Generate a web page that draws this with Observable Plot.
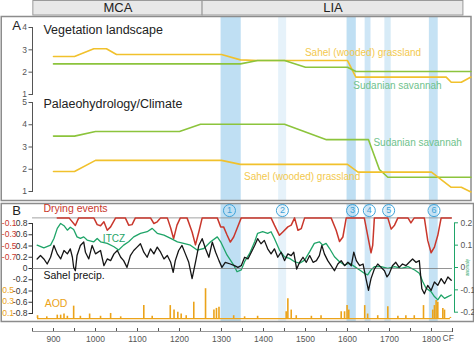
<!DOCTYPE html>
<html>
<head>
<meta charset="utf-8">
<script src="https://cdn.jsdelivr.net/npm/d3@7"></script>
<script src="https://cdn.jsdelivr.net/npm/@observablehq/plot@0.6"></script>
<style>
  html, body { margin: 0; padding: 0; background: #fff; }
  #chart { position: relative; width: 474px; height: 344px; overflow: hidden; background: #fff; }
</style>
</head>
<body>
<div id="chart"></div>
<script>
// ---------------- DATA ----------------
const periodNames = ["MCA", "LIA"];
const periodStart = [852, 1255];
const periodEnd = [1255, 1876];

const bandStart = [1299, 1436, 1599, 1642, 1689, 1795];
const bandEnd   = [1347, 1455, 1621, 1656, 1704, 1816];

const eventLabels = ["1", "2", "3", "4", "5", "6"];
const eventYears  = [1319, 1445, 1612, 1652, 1698, 1806];

// Panel A – vegetation landscape
const vegSahelYears = [900, 950, 996, 1026, 1050, 1300, 1345, 1386, 1600, 1620, 1835, 1847, 1871, 1894];
const vegSahel      = [2.70, 2.70, 3.05, 3.05, 2.79, 2.79, 2.55, 2.52, 2.52, 1.78, 1.78, 1.55, 1.55, 1.78];
const vegSudanYears = [900, 1345, 1386, 1450, 1500, 1600, 1620, 1894];
const vegSudan      = [2.37, 2.37, 2.52, 2.52, 2.22, 2.22, 2.03, 2.03];

// Panel A – palaeohydrology / climate
const palSudanYears = [900, 950, 1000, 1200, 1250, 1450, 1550, 1650, 1676, 1696, 1894];
const palSudan      = [3.49, 3.49, 3.70, 3.70, 4.02, 4.02, 3.33, 3.33, 1.99, 1.64, 1.64];
const palSahelYears = [900, 950, 1000, 1300, 1345, 1600, 1625, 1800, 1847, 1871, 1894];
const palSahel      = [1.90, 1.90, 2.40, 2.40, 2.22, 2.22, 1.87, 1.87, 1.19, 1.19, 0.98];

// Panel B – ITCZ (right axis)
const itczYears = [861, 877, 893, 901, 909, 917, 925, 933, 940, 948, 956, 964, 972, 980, 996, 1004, 1012, 1028, 1044, 1055, 1067, 1079, 1091, 1107, 1123, 1135, 1147, 1163, 1179, 1195, 1210, 1226, 1242, 1258, 1274, 1290, 1298, 1313, 1329, 1337, 1347, 1355, 1367, 1379, 1386, 1398, 1410, 1418, 1426, 1438, 1450, 1462, 1474, 1486, 1498, 1510, 1521, 1533, 1541, 1549, 1557, 1569, 1581, 1593, 1605, 1617, 1629, 1640, 1648, 1656, 1664, 1680, 1696, 1712, 1728, 1744, 1760, 1771, 1779, 1787, 1799, 1807, 1815, 1823, 1831, 1839, 1847];
const itcz      = [0.10, 0.088, 0.10, 0.13, 0.175, 0.197, 0.187, 0.167, 0.18, 0.17, 0.137, 0.13, 0.137, 0.123, 0.115, 0.13, 0.115, 0.108, 0.093, 0.078, 0.10, 0.115, 0.137, 0.153, 0.16, 0.175, 0.153, 0.145, 0.13, 0.115, 0.108, 0.10, 0.078, 0.085, 0.115, 0.137, 0.115, 0.056, 0.011, -0.019, -0.011, 0.026, 0.063, 0.115, 0.153, 0.16, 0.153, 0.16, 0.13, 0.078, 0.048, 0.041, 0.026, 0.019, 0.033, 0.071, 0.108, 0.115, 0.10, 0.108, 0.086, 0.048, 0.026, 0.011, 0.019, 0.004, -0.011, -0.026, -0.033, -0.011, 0.004, 0.004, -0.004, 0.004, -0.004, 0.004, -0.011, -0.026, -0.063, -0.093, -0.108, -0.13, -0.145, -0.123, -0.138, -0.13, -0.123];

// Panel B – Sahel precipitation (left black axis)
const sahelYears = [861, 869, 877, 885, 893, 901, 909, 917, 925, 933, 940, 945, 948, 952, 956, 964, 972, 976, 984, 992, 1000, 1012, 1020, 1028, 1036, 1044, 1052, 1060, 1067, 1075, 1083, 1091, 1099, 1107, 1115, 1123, 1131, 1139, 1147, 1155, 1163, 1171, 1179, 1185, 1190, 1198, 1206, 1214, 1222, 1230, 1238, 1246, 1254, 1262, 1270, 1278, 1286, 1294, 1301, 1309, 1321, 1331, 1339, 1347, 1355, 1363, 1371, 1379, 1386, 1394, 1402, 1410, 1418, 1426, 1434, 1442, 1450, 1458, 1466, 1472, 1479, 1486, 1494, 1502, 1510, 1518, 1526, 1533, 1539, 1545, 1553, 1561, 1569, 1577, 1585, 1593, 1601, 1609, 1615, 1621, 1629, 1637, 1644, 1650, 1656, 1664, 1672, 1680, 1688, 1694, 1699, 1707, 1715, 1723, 1731, 1739, 1747, 1755, 1763, 1771, 1777, 1783, 1791, 1799, 1807, 1815, 1823, 1831, 1839, 1847];
const sahel      = [0.17, 0.23, 0.17, 0.08, 0.20, 0.41, 0.26, 0.17, 0.32, 0.26, 0.35, 0.20, 0.02, -0.04, 0.23, 0.41, 0.47, 0.29, 0.17, 0.41, 0.26, 0.32, 0.05, 0.17, 0.14, 0.26, 0.32, 0.20, 0.14, 0.02, 0.23, 0.32, 0.38, 0.44, 0.29, 0.20, 0.35, 0.26, 0.38, 0.29, 0.17, 0.23, 0.11, -0.07, 0.14, 0.32, 0.41, 0.26, 0.11, -0.18, 0.11, 0.41, 0.53, 0.35, 0.20, 0.47, 0.29, 0.14, 0.02, 0.11, 0.08, 0.05, 0.02, 0.05, 0.20, 0.17, 0.29, 0.41, 0.53, 0.44, 0.50, 0.35, 0.26, 0.35, 0.20, 0.29, 0.14, 0.26, 0.23, 0.29, -0.01, 0.11, 0.20, 0.11, 0.23, 0.11, 0.14, 0.23, 0.41, 0.26, 0.14, 0.05, -0.04, 0.08, 0.14, 0.05, 0.11, 0.05, 0.29, 0.14, 0.05, 0.08, -0.18, -0.39, -0.18, -0.01, 0.08, 0.02, -0.04, -0.15, -0.10, 0.05, 0.11, 0.02, 0.08, 0.05, 0.11, 0.17, 0.11, 0.14, -0.36, -0.45, -0.30, -0.39, -0.24, -0.30, -0.18, -0.27, -0.15, -0.21];

// Panel B – drying events (red axis)
const dryYears = [909, 937, 952, 960, 996, 1004, 1012, 1020, 1028, 1036, 1048, 1071, 1079, 1087, 1095, 1131, 1139, 1147, 1155, 1171, 1179, 1186, 1194, 1202, 1218, 1230, 1238, 1246, 1254, 1290, 1298, 1305, 1313, 1321, 1329, 1337, 1347, 1418, 1426, 1438, 1446, 1458, 1466, 1474, 1482, 1490, 1498, 1561, 1573, 1581, 1589, 1597, 1640, 1648, 1656, 1660, 1664, 1696, 1704, 1712, 1720, 1744, 1751, 1759, 1783, 1791, 1799, 1807, 1815, 1823, 1847];
const dry      = [0, 0, -0.135, 0, 0, -0.12, -0.14, -0.07, -0.22, -0.16, 0, 0, -0.13, -0.12, 0, 0, -0.10, -0.07, 0, 0, -0.18, -0.37, -0.13, 0, 0, -0.25, -0.48, -0.25, 0, 0, -0.16, -0.16, -0.30, -0.43, -0.34, -0.19, 0, 0, -0.13, -0.31, -0.25, -0.16, -0.13, 0, -0.22, -0.19, 0, 0, -0.22, -0.42, -0.34, 0, 0, -0.31, -0.62, -0.49, 0, 0, -0.20, -0.13, 0, 0, -0.09, 0, 0, -0.40, -0.62, -0.52, -0.31, 0, 0];

// Panel B – AOD (volcanic aerosol optical depth)
const aodYears = [862, 884, 909, 917, 925, 933, 948, 964, 986, 1012, 1036, 1060, 1115, 1135, 1178, 1187, 1196, 1204, 1216, 1234, 1262, 1282, 1288, 1294, 1329, 1355, 1386, 1454, 1458, 1466, 1478, 1514, 1537, 1585, 1593, 1599, 1603, 1641, 1648, 1672, 1696, 1720, 1739, 1759, 1781, 1803, 1807, 1811, 1815, 1827, 1831, 1845];
const aod      = [0.05, 0.03, 0.06, 0.06, 0.08, 0.04, 0.22, 0.04, 0.08, 0.04, 0.09, 0.03, 0.23, 0.04, 0.23, 0.15, 0.11, 0.08, 0.05, 0.29, 0.53, 0.15, 0.18, 0.20, 0.05, 0.03, 0.04, 0.12, 0.35, 0.15, 0.05, 0.04, 0.05, 0.12, 0.12, 0.23, 0.15, 0.23, 0.08, 0.05, 0.21, 0.04, 0.05, 0.05, 0.23, 0.15, 0.23, 0.32, 0.29, 0.18, 0.15, 0.02];

// Axis ticks
const axisYears = [850, 1850];
const xTicks = d3.range(850, 1851, 50);
const vegTicks = [1, 2, 3, 4];
const palTicks = [1, 2, 3, 4, 5];
const sahelTicks = [-0.8, -0.6, -0.4, -0.2, 0, 0.2, 0.4, 0.6, 0.8];
const dryTicks = [-0.7, -0.5, -0.3, -0.1];
const aodTicks = [0.1, 0.3, 0.5];
const itczTicks = [-0.2, -0.1, 0, 0.1, 0.2];

// ---------------- TABLES ----------------
const zip = (xs, ys) => xs.map((x, i) => ({year: x, v: ys[i]}));
const periods = periodNames.map((n, i) => ({name: n, start: periodStart[i], end: periodEnd[i]}));
const bandOpacity = [0.72, 0.28, 0.72, 0.55, 0.45, 0.65];
const bands = bandStart.map((s, i) => ({start: s, end: bandEnd[i], op: bandOpacity[i]}));
const events = eventLabels.map((l, i) => ({label: l, year: eventYears[i]}));

// ---------------- STYLE ----------------
const W = 474, H = 344;
const xDomain = [773.8, 1902.4];
const FONT = "'Liberation Sans', Arial, Helvetica, sans-serif";
const YEL = "#f1c12c", GRN = "#8cc43c", YEL_T = "#f3c94e", GRN_T = "#6fc28c";
const RED = "#c9372c", ITCZ = "#1fa468", AODC = "#eba31a", BLUE = "#3ea2d8", BAND = "#a6d2ee";
const fmt = d => Math.abs(d) < 1e-9 ? "0" : d.toFixed(1);
const fmtInt = d => String(d);

const root = document.getElementById("chart");
function layer(opts) {
  const {x: xo, style: so, ...rest} = opts;
  const svg = Plot.plot({
    width: W, height: H,
    marginTop: 0, marginRight: 0, marginBottom: 0, marginLeft: 0,
    ...rest,
    x: {domain: xDomain, range: [0, W], axis: null, label: null, ...(xo || {})},
    style: {background: "transparent", overflow: "visible", fontFamily: FONT, fontSize: "8.5px", color: "#444", ...(so || {})}
  });
  svg.style.position = "absolute";
  svg.style.left = "0px";
  svg.style.top = "0px";
  root.appendChild(svg);
}

// Period bar (MCA / LIA)
layer({
  marginTop: 0.5, marginBottom: H - 15,
  marks: [
    Plot.rect(periods, {x1: "start", x2: "end", fill: "#e8e8e8", stroke: "#9a9a9a", strokeWidth: 1}),
    Plot.text(periods, {x: d => (d.start + d.end) / 2, text: "name", fontSize: 13, fill: "#222"})
  ]
});

// Panel A background: bands + frame
layer({
  marginTop: 16, marginBottom: H - 200, marginLeft: 0.75, marginRight: 3.5,
  marks: [
    Plot.rect(bands, {x1: "start", x2: "end", fill: BAND, fillOpacity: "op"}),
    Plot.frame({stroke: "#8c8c8c", strokeWidth: 1.5})
  ]
});

// Panel B background: bands + frame
layer({
  marginTop: 203, marginBottom: H - 321, marginLeft: 0.75, marginRight: 1,
  marks: [
    Plot.rect(bands, {x1: "start", x2: "end", fill: BAND, fillOpacity: "op"}),
    Plot.frame({stroke: "#8c8c8c", strokeWidth: 1.5})
  ]
});

// Vegetation landscape
layer({
  marginLeft: 32, marginTop: 27, marginBottom: H - 94,
  y: {domain: [1, 4], range: [94, 27], ticks: vegTicks, tickSize: 3.5, tickPadding: 2, tickFormat: fmtInt, line: true, label: null},
  style: {color: "#555"},
  marks: [
    Plot.line(zip(vegSahelYears, vegSahel), {x: "year", y: "v", stroke: YEL, strokeWidth: 1.6}),
    Plot.line(zip(vegSudanYears, vegSudan), {x: "year", y: "v", stroke: GRN, strokeWidth: 1.6}),
    Plot.text(["A"], {x: 812, y: 4.07, fontSize: 13, fill: "#222"}),
    Plot.text(["Vegetation landscape"], {x: 876, y: 3.87, textAnchor: "start", fontSize: 12.5, fill: "#222"}),
    Plot.text(["Sahel (wooded) grassland"], {x: 1637, y: 2.88, fontSize: 10, fill: YEL_T}),
    Plot.text(["Sudanian savannah"], {x: 1719, y: 1.37, fontSize: 10, fill: GRN_T})
  ]
});

// Palaeohydrology / Climate
layer({
  marginLeft: 32, marginTop: 102, marginBottom: H - 191,
  y: {domain: [1, 5], range: [191, 102], ticks: palTicks, tickSize: 3.5, tickPadding: 2, tickFormat: fmtInt, line: true, label: null},
  style: {color: "#555"},
  marks: [
    Plot.line(zip(palSudanYears, palSudan), {x: "year", y: "v", stroke: GRN, strokeWidth: 1.6}),
    Plot.line(zip(palSahelYears, palSahel), {x: "year", y: "v", stroke: YEL, strokeWidth: 1.6}),
    Plot.text(["Palaeohydrology/Climate"], {x: 876, y: 4.92, textAnchor: "start", fontSize: 12.5, fill: "#222"}),
    Plot.text(["Sudanian savannah"], {x: 1767, y: 3.21, fontSize: 10, fill: GRN_T}),
    Plot.text(["Sahel (wooded) grassland"], {x: 1492, y: 1.68, fontSize: 10, fill: YEL_T})
  ]
});

// Drying events (red axis)
layer({
  marginLeft: 32, marginTop: 223, marginBottom: H - 257,
  y: {domain: [-0.7, -0.1], range: [256.75, 223], ticks: dryTicks, tickSize: 0, tickPadding: 16, tickFormat: fmt, label: null},
  style: {color: RED},
  marks: [
    Plot.ruleY([0], {x1: axisYears[0], x2: axisYears[1], stroke: "#8a8a8a", strokeWidth: 0.8}),
    Plot.line(zip(dryYears, dry), {x: "year", y: "v", stroke: RED, strokeWidth: 1.5}),
    Plot.dot(events, {x: "year", y: 0.13, r: 6, stroke: BLUE, strokeWidth: 1, fill: "none"}),
    Plot.text(events, {x: "year", y: 0.13, text: "label", fill: BLUE, fontSize: 9}),
    Plot.text(["Drying events"], {x: 876, y: 0.167, textAnchor: "start", fill: RED, fontSize: 10.5})
  ]
});

// AOD (yellow axis)
layer({
  marginLeft: 32, marginTop: 290, marginBottom: H - 318,
  y: {domain: [0.1, 0.5], range: [312.4, 289.9], ticks: aodTicks, tickSize: 0, tickPadding: 18.5, tickFormat: fmt, label: null},
  style: {color: AODC},
  marks: [
    Plot.ruleY([0], {x1: d3.min(aodYears), x2: d3.max(aodYears), stroke: AODC, strokeWidth: 1.2}),
    Plot.ruleX(zip(aodYears, aod), {x: "year", y1: 0, y2: "v", stroke: AODC, strokeWidth: 1.6}),
    Plot.text(["AOD"], {x: 879, y: 0.261, textAnchor: "start", fill: AODC, fontSize: 10.5})
  ]
});

// ITCZ (right green axis) – line + ticks
layer({
  marginRight: 20, marginTop: 222.3, marginBottom: H - 311.7,
  y: {axis: "right", domain: [-0.2, 0.2], range: [311.7, 222.3], ticks: itczTicks, tickSize: 3, tickFormat: () => "", line: true, label: null},
  style: {color: ITCZ},
  marks: [
    Plot.line(zip(itczYears, itcz), {x: "year", y: "v", stroke: ITCZ, strokeWidth: 1.3}),
    Plot.text(["ITCZ"], {x: 1044, y: 0.13, fill: ITCZ, fontSize: 10}),
    Plot.text(["anomaly"], {x: 1886, y: 0.0, rotate: -90, fill: ITCZ, fontSize: 4.5})
  ]
});
// ITCZ axis labels
layer({
  marginRight: 20, marginTop: 222.3, marginBottom: H - 311.7,
  y: {axis: "right", domain: [-0.2, 0.2], range: [311.7, 222.3], ticks: itczTicks, tickSize: 0, tickPadding: 6, tickFormat: fmt, label: null},
  style: {color: "#555"},
  marks: [Plot.ruleY([0], {stroke: "none"})]
});

// Sahel precipitation (black axis)
layer({
  marginLeft: 32, marginTop: 223, marginBottom: H - 313,
  y: {domain: [-0.8, 0.8], range: [313, 223], ticks: sahelTicks, tickSize: 3.5, tickPadding: 1.5, tickFormat: fmt, line: true, label: null},
  style: {color: "#333"},
  marks: [
    Plot.ruleY([0], {x1: axisYears[0], x2: axisYears[1], stroke: "#7a7a7a", strokeWidth: 0.8}),
    Plot.line(zip(sahelYears, sahel), {x: "year", y: "v", stroke: "#151515", strokeWidth: 1.3}),
    Plot.text(["B"], {x: 812, y: 1.03, fontSize: 13, fill: "#222"}),
    Plot.text(["Sahel precip."], {x: 876, y: -0.124, textAnchor: "start", fill: "#111", fontSize: 10.5})
  ]
});

// Bottom time axis
layer({
  marginBottom: 16, marginTop: 320,
  x: {axis: "bottom", ticks: xTicks, tickSize: 4, tickPadding: 3, tickFormat: d => (d % 100 === 0 ? String(d) : "")},
  y: {domain: [0, 1], range: [331, 320], axis: null},
  style: {color: "#555"},
  marks: [
    Plot.ruleY([0], {x1: axisYears[0], x2: axisYears[1], stroke: "#999", strokeWidth: 1}),
    Plot.text(["CF"], {x: 1800, y: 0, dx: 11, dy: 7, textAnchor: "start", fill: "#555", fontSize: 8.5})
  ]
});
</script>
</body>
</html>
